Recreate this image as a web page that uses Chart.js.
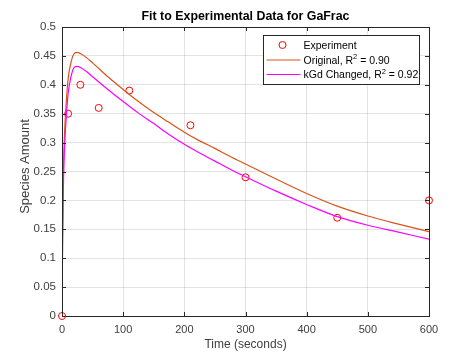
<!DOCTYPE html>
<html>
<head>
<meta charset="utf-8">
<script src="https://cdn.jsdelivr.net/npm/chart.js@4/dist/chart.umd.min.js"></script>
<style>
  html, body { margin: 0; padding: 0; background: #fff; }
  #wrap { position: relative; width: 474px; height: 355px; }
</style>
</head>
<body>
<div id="wrap"><canvas id="c" width="474" height="355"></canvas></div>
<script>
// ---- data ----
const expTime  = [0, 10, 30, 60, 110, 210, 300, 450, 600];
const expValue = [0, 0.35, 0.40, 0.36, 0.39, 0.33, 0.24, 0.17, 0.20];

const fitTime     = [0, 0.5, 1, 2, 3, 5, 7, 10, 15, 20, 25, 30, 40, 50, 75, 100, 125, 150, 175, 200, 225, 250, 275, 300, 350, 400, 450, 500, 550, 600];
const originalFit = [0, 0.075, 0.14, 0.225, 0.28, 0.335, 0.37, 0.41, 0.44, 0.454, 0.456, 0.454, 0.447, 0.438, 0.414, 0.392, 0.371, 0.352, 0.335, 0.318, 0.303, 0.290, 0.276, 0.263, 0.237, 0.212, 0.190, 0.173, 0.159, 0.146];
const kGdFit      = [0, 0.07, 0.13, 0.21, 0.26, 0.31, 0.345, 0.385, 0.415, 0.43, 0.432, 0.43, 0.423, 0.414, 0.392, 0.371, 0.351, 0.333, 0.314, 0.297, 0.282, 0.268, 0.254, 0.241, 0.216, 0.193, 0.172, 0.157, 0.145, 0.133];

const xTickValues = [0, 100, 200, 300, 400, 500, 600];
const yTickLabels = ['0', '0.05', '0.1', '0.15', '0.2', '0.25', '0.3', '0.35', '0.4', '0.45', '0.5'];

const seriesNames = ['Experiment', 'Original, R', 'kGd Changed, R'];
const r2Text = ['', ' = 0.90', ' = 0.92'];

const titleText = 'Fit to Experimental Data for GaFrac';
const xTitle = 'Time (seconds)';
const yTitle = 'Species Amount';

// ---- styles ----
const FONT = '"Liberation Sans", Arial, Helvetica, sans-serif';
const AXIS_COLOR = '#262626';
const TICK_COLOR = '#404040';
const ORANGE = '#D95319';
const MAGENTA = '#FF00FF';
const RED = '#FF0000';

const toXY = (xs, ys) => xs.map((x, i) => ({ x: x, y: ys[i] }));

const framePlugin = {
  id: 'frame',
  afterDatasetsDraw(chart) {
    const ctx = chart.ctx;
    const a = chart.chartArea;
    const xs = chart.scales.x, ys = chart.scales.y;
    ctx.save();
    ctx.strokeStyle = AXIS_COLOR;
    ctx.lineWidth = 1;
    ctx.strokeRect(Math.round(a.left) + 0.5, Math.round(a.top) + 0.5,
                   Math.round(a.right - a.left), Math.round(a.bottom - a.top));
    const tl = 4;
    ctx.beginPath();
    xTickValues.forEach(v => {
      const px = Math.round(xs.getPixelForValue(v)) + 0.5;
      ctx.moveTo(px, a.bottom); ctx.lineTo(px, a.bottom - tl);
      ctx.moveTo(px, a.top); ctx.lineTo(px, a.top + tl);
    });
    yTickLabels.forEach(l => {
      const py = Math.round(ys.getPixelForValue(parseFloat(l))) + 0.5;
      ctx.moveTo(a.left, py); ctx.lineTo(a.left + tl, py);
      ctx.moveTo(a.right, py); ctx.lineTo(a.right - tl, py);
    });
    ctx.stroke();
    ctx.restore();
  },
  afterDraw(chart) {
    const ctx = chart.ctx;
    const a = chart.chartArea;
    ctx.save();
    // title
    ctx.fillStyle = '#000';
    ctx.font = 'bold 12.4px ' + FONT;
    ctx.textAlign = 'center';
    ctx.textBaseline = 'middle';
    ctx.fillText(titleText, (a.left + a.right) / 2, a.top - 10.5);
    // x title
    ctx.fillStyle = TICK_COLOR;
    ctx.font = '12px ' + FONT;
    ctx.fillText(xTitle, (a.left + a.right) / 2, a.bottom + 29);
    // y title
    ctx.save();
    ctx.font = '13px ' + FONT;
    ctx.translate(a.left - 37, (a.top + a.bottom) / 2 - 5);
    ctx.rotate(-Math.PI / 2);
    ctx.fillText(yTitle, 0, 0);
    ctx.restore();

    // legend
    const lx = 263.5, ly = 35.5, lw = 156, lh = 49;
    ctx.fillStyle = '#fff';
    ctx.fillRect(lx, ly, lw, lh);
    ctx.strokeStyle = AXIS_COLOR;
    ctx.lineWidth = 1;
    ctx.strokeRect(lx, ly, lw, lh);
    const rows = [ly + 9.5, ly + 24.5, ly + 39];
    ctx.strokeStyle = RED;
    ctx.beginPath();
    ctx.arc(lx + 19, rows[0], 3.5, 0, Math.PI * 2);
    ctx.stroke();
    [ORANGE, MAGENTA].forEach((c, i) => {
      ctx.strokeStyle = c;
      ctx.beginPath();
      ctx.moveTo(lx + 3, rows[i + 1]);
      ctx.lineTo(lx + 37, rows[i + 1]);
      ctx.stroke();
    });
    ctx.fillStyle = '#000';
    ctx.textAlign = 'left';
    ctx.textBaseline = 'middle';
    seriesNames.forEach((name, i) => {
      let x = lx + 40;
      ctx.font = '10.5px ' + FONT;
      ctx.fillText(name, x, rows[i] + 1);
      if (i > 0) {
        x += ctx.measureText(name).width;
        ctx.font = '7.5px ' + FONT;
        ctx.fillText('2', x, rows[i] - 3);
        x += ctx.measureText('2').width;
        ctx.font = '10.5px ' + FONT;
        ctx.fillText(r2Text[i], x, rows[i] + 1);
      }
    });
    ctx.restore();
  }
};

new Chart(document.getElementById('c'), {
  type: 'line',
  data: {
    datasets: [
      {
        label: 'kGd Changed',
        data: toXY(fitTime, kGdFit),
        borderColor: MAGENTA,
        borderWidth: 1.2,
        pointRadius: 0,
        cubicInterpolationMode: 'monotone',
        order: 0
      },
      {
        label: 'Original',
        data: toXY(fitTime, originalFit),
        borderColor: ORANGE,
        borderWidth: 1.2,
        pointRadius: 0,
        cubicInterpolationMode: 'monotone',
        order: 1
      },
      {
        label: 'Experiment',
        data: toXY(expTime, expValue),
        showLine: false,
        pointStyle: 'circle',
        pointRadius: 3.5,
        pointBorderWidth: 1,
        pointBorderColor: RED,
        pointBackgroundColor: 'rgba(0,0,0,0)',
        clip: false,
        order: 2
      }
    ]
  },
  options: {
    responsive: false,
    animation: false,
    events: [],
    layout: { padding: { left: 0, right: 45, top: 27, bottom: 0 } },
    plugins: { legend: { display: false }, title: { display: false }, tooltip: { enabled: false } },
    scales: {
      x: {
        type: 'linear',
        min: 0, max: 600,
        afterFit(s) { s.height = 39; },
        afterBuildTicks(s) { s.ticks = xTickValues.map(v => ({ value: v })); },
        grid: { color: 'rgba(38,38,38,0.13)', drawTicks: false },
        border: { display: false },
        ticks: {
          padding: 7,
          color: TICK_COLOR,
          font: { family: FONT, size: 11 },
          maxRotation: 0,
          callback: v => String(v)
        }
      },
      y: {
        type: 'linear',
        min: 0, max: 0.5,
        afterFit(s) { s.width = 62; },
        afterBuildTicks(s) { s.ticks = yTickLabels.map(l => ({ value: parseFloat(l) })); },
        grid: { color: 'rgba(38,38,38,0.13)', drawTicks: false },
        border: { display: false },
        ticks: {
          padding: 6,
          color: TICK_COLOR,
          font: { family: FONT, size: 11.5 },
          callback: (v, i) => yTickLabels[i]
        }
      }
    }
  },
  plugins: [framePlugin]
});
</script>
</body>
</html>
